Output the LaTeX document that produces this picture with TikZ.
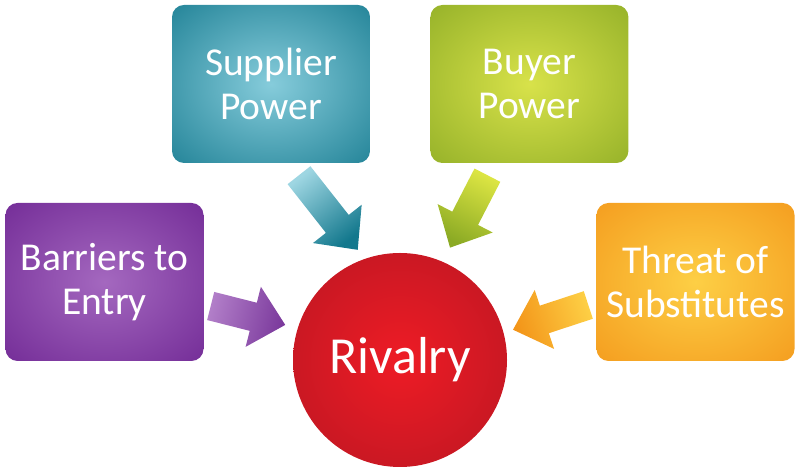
\documentclass[tikz,border=0pt]{standalone}
\usepackage{fontspec}
\setmainfont{Carlito}
\usetikzlibrary{positioning,calc}

\definecolor{supin}{HTML}{86CCDB}
\definecolor{supout}{HTML}{13788D}
\definecolor{buyin}{HTML}{D8E24A}
\definecolor{buyout}{HTML}{8BAA24}
\definecolor{barin}{HTML}{A468BF}
\definecolor{barout}{HTML}{6C2391}
\definecolor{thrin}{HTML}{FDCF45}
\definecolor{throut}{HTML}{F39519}
\definecolor{rivin}{HTML}{EE1C25}
\definecolor{rivout}{HTML}{B21522}

% soft glow from the middle out to the rim
\makeatletter
\pgfdeclareradialshading[tikz@radial@inner,tikz@radial@outer]{glow}{\pgfpoint{0bp}{0bp}}{%
  color(0bp)=(tikz@radial@inner); color(42bp)=(tikz@radial@outer); color(72bp)=(tikz@radial@outer)}
\makeatother

% wide block arrow: from, to, tail colour, head colour
\newcommand{\flow}[4]{%
  \pgfmathanglebetweenpoints{\pgfpointanchor{#1}{center}}{\pgfpointanchor{#2}{center}}%
  \edef\flowang{\pgfmathresult}%
  \pgfmathsetmacro{\flowang}{\flowang+90}%
  \coordinate (neck) at ($(#2)!33pt!(#1)$);
  \shade[top color=#3, bottom color=#4, shading angle=\flowang]
    ($(#1)!14.5pt!90:(#2)$) -- ($(neck)!14.5pt!90:(#2)$) -- ($(neck)!31pt!90:(#2)$) -- (#2)
    -- ($(neck)!31pt!-90:(#2)$) -- ($(neck)!14.5pt!-90:(#2)$) -- ($(#1)!14.5pt!-90:(#2)$) -- cycle;
}

\begin{document}
\begin{tikzpicture}[
      x=1pt, y=1pt,
      force/.style 2 args={rounded corners=12pt, minimum width=198pt, minimum height=158pt,
        inner color=#1, outer color=#2, shading=glow, text=white, align=center,
        font=\fontsize{39.5}{44}\selectfont},
      hub/.style={circle, minimum size=214pt, inner color=rivin, outer color=rivout,
        shading=glow, text=white, font=\fontsize{52}{60}\selectfont}
    ]
    \useasboundingbox (0,0) rectangle (800,470);

    % the five forces
    \node[force={supin}{supout}] (sup) at (271,386) {Supplier\\Power};
    \node[force={buyin}{buyout}, right=60pt of sup] (buy) {Buyer\\Power};
    \node[force={barin}{barout}] (bar) at (104.5,188) {Barriers to\\Entry};
    \node[force={thrin}{throut}] (thr) at (695.5,188) {Threat of\\Substitutes};
    \node[hub] (riv) at (400,110) {Rivalry};

    % arrow ends
    \coordinate (sup-tail) at ($(sup.south)+(28,-12)$);
    \coordinate (sup-tip) at ($(riv.center)+(111:118)$);
    \coordinate (buy-tail) at ($(buy.south)+(-42,-12)$);
    \coordinate (buy-tip) at ($(riv.center)+(66:123)$);
    \coordinate (bar-tail) at ($(bar.east)+(7,-24)$);
    \coordinate (bar-tip) at ($(riv.center)+(163:120)$);
    \coordinate (thr-tail) at ($(thr.west)+(-8,-23)$);
    \coordinate (thr-tip) at ($(riv.center)+(15:117)$);

    % arrows
    \flow{sup-tail}{sup-tip}{supin!80!white}{supout};
    \flow{buy-tail}{buy-tip}{buyin!90!yellow}{buyout};
    \flow{bar-tail}{bar-tip}{barin!85!white}{barout!90!white};
    \flow{thr-tail}{thr-tip}{thrin}{throut};

  \end{tikzpicture}
\end{document}
